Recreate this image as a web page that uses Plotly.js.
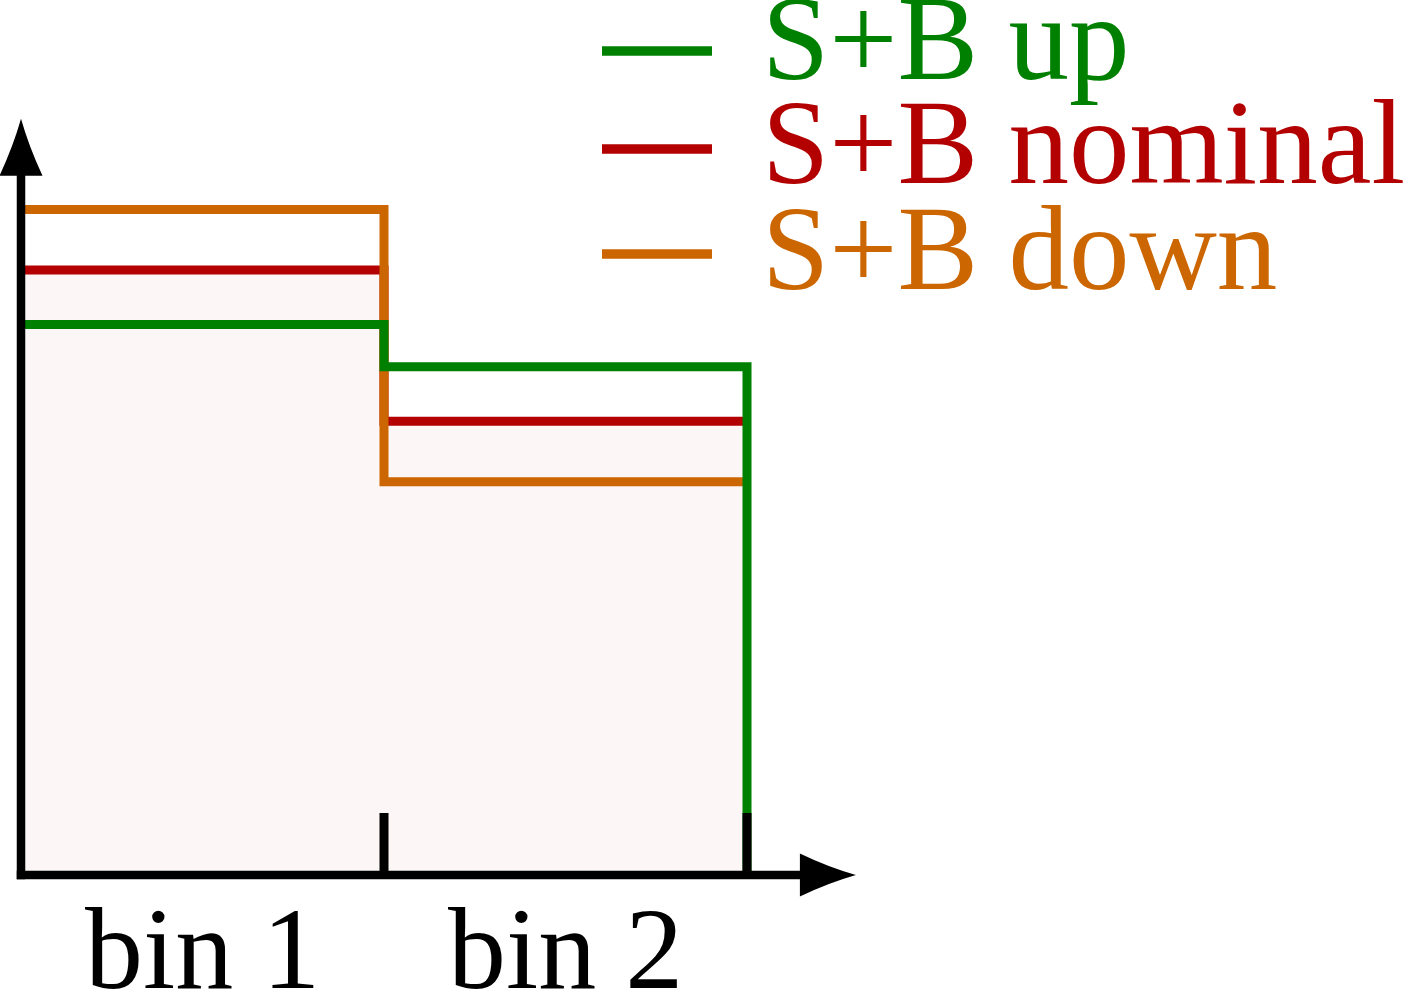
<!DOCTYPE html>
<html>
<head>
<meta charset="utf-8">
<script src="https://cdn.plot.ly/plotly-3.0.1.min.js"></script>
<style>
  html, body { margin: 0; padding: 0; background: #fff; }
  #grafico { width: 1412px; height: 993px; }
</style>
</head>
<body>
<div id="grafico"></div>
<script>
// bins (edges and labels)
const binEdges = [0, 1, 2];
const binLabels = ['bin 1', 'bin 2'];

// S+B yields per bin
const sbUp = [9.1, 8.4];
const sbNominal = [10, 7.5];
const sbDown = [11, 6.5];

const seriesNames = ['S+B up', 'S+B nominal', 'S+B down'];
const seriesColors = ['#008000', '#b30000', '#cc6600'];

// canvas / scale (pixels per unit), origin at (21, 875)
const W = 1412, H = 993;
const ox = 21, oy = 875;
const ppx = 363, ppy = 60.5;
const xAxisMax = 2.3, yAxisMax = 12.5; // arrow tips

const fontFam = '"Liberation Serif", "Times New Roman", serif';
const fsLeg = 121;
const fsBin = 116;

const binCenters = binLabels.map((_, i) => (binEdges[i] + binEdges[i + 1]) / 2);

// step line across the bins
function stepX() {
	const xs = [];
	for (let i = 0; i < binCenters.length; i++) xs.push(binEdges[i], binEdges[i + 1]);
	return xs;
}
function stepY(vals) {
	const ys = [];
	vals.forEach(v => ys.push(v, v));
	return ys;
}

//fill under nominal
const fill = {
	type: 'bar',
	x: binCenters,
	y: sbNominal,
	width: binCenters.map(() => 1),
	marker: { color: '#fcf6f6', line: { width: 0 } },
	hoverinfo: 'skip',
	showlegend: false
};

const lineNominal = {
	x: stepX(), y: stepY(sbNominal), mode: 'lines',
	line: { color: seriesColors[1], width: 9 }, showlegend: false
};
const lineDown = {
	x: stepX(), y: stepY(sbDown), mode: 'lines',
	line: { color: seriesColors[2], width: 9 }, showlegend: false
};
// green closes down to the axis on the right edge
const lineUp = {
	x: stepX().concat([binEdges[binEdges.length - 1]]),
	y: stepY(sbUp).concat([0]),
	mode: 'lines',
	line: { color: seriesColors[0], width: 9 }, showlegend: false
};

const data = [fill, lineNominal, lineDown, lineUp];

const aw = 8.5; // axis width
const shapes = [
	// y axis
	{ type: 'line', xref: 'x', yref: 'y', x0: 0, x1: 0, y0: -aw / 2 / ppy, y1: yAxisMax - 40 / ppy,
	  line: { color: 'black', width: aw }, layer: 'above' },
	// x axis
	{ type: 'line', xref: 'x', yref: 'y', x0: -aw / 2 / ppx, x1: xAxisMax - 40 / ppx, y0: 0, y1: 0,
	  line: { color: 'black', width: aw }, layer: 'above' },
	// arrow heads
	{ type: 'path', xref: 'x', yref: 'y', xsizemode: 'pixel', ysizemode: 'pixel', xanchor: 0, yanchor: yAxisMax,
	  path: 'M0,0 Q-8,-28 -21.5,-57 L21.5,-57 Q8,-28 0,0 Z', fillcolor: 'black', line: { width: 0 }, layer: 'above' },
	{ type: 'path', xref: 'x', yref: 'y', xsizemode: 'pixel', ysizemode: 'pixel', xanchor: xAxisMax, yanchor: 0,
	  path: 'M0,0 Q-28,8 -56,21.5 L-56,-21.5 Q-28,-8 0,0 Z', fillcolor: 'black', line: { width: 0 }, layer: 'above' }
];
// ticks at inner bin edges
binEdges.slice(1).forEach(e => {
	shapes.push({ type: 'line', xref: 'x', yref: 'y', ysizemode: 'pixel', yanchor: 0,
		x0: e, x1: e, y0: 0, y1: 62, line: { color: 'black', width: 9 }, layer: 'above' });
});

// legend (drawn by hand, long line samples)
const legY = [51, 149, 254];
const legBase = [79, 183, 289];
const annotations = [];
seriesNames.forEach((name, i) => {
	shapes.push({ type: 'line', xref: 'paper', yref: 'paper',
		x0: 602 / W, x1: 712 / W, y0: 1 - legY[i] / H, y1: 1 - legY[i] / H,
		line: { color: seriesColors[i], width: 9.5 } });
	annotations.push({ xref: 'paper', yref: 'paper', x: 760 / W, y: 1 - (legBase[i] - 0.3375 * fsLeg) / H,
		xanchor: 'left', yanchor: 'middle', showarrow: false, text: name,
		font: { family: fontFam, size: fsLeg, color: seriesColors[i] } });
});
// bin labels
binLabels.forEach((lab, i) => {
	annotations.push({ xref: 'x', yref: 'paper', x: binCenters[i], y: 1 - (988 - 0.3375 * fsBin) / H,
		xanchor: 'center', yanchor: 'middle', showarrow: false, text: lab,
		font: { family: fontFam, size: fsBin, color: 'black' } });
});

const layout = {
	width: W, height: H,
	margin: { l: 0, r: 0, t: 0, b: 0 },
	paper_bgcolor: 'white', plot_bgcolor: 'white',
	showlegend: false,
	xaxis: { range: [-ox / ppx, (W - ox) / ppx], visible: false, fixedrange: true },
	yaxis: { range: [-(H - oy) / ppy, oy / ppy], visible: false, fixedrange: true },
	shapes: shapes,
	annotations: annotations
};

Plotly.newPlot('grafico', data, layout, { displayModeBar: false, staticPlot: true });
</script>
</body>
</html>
